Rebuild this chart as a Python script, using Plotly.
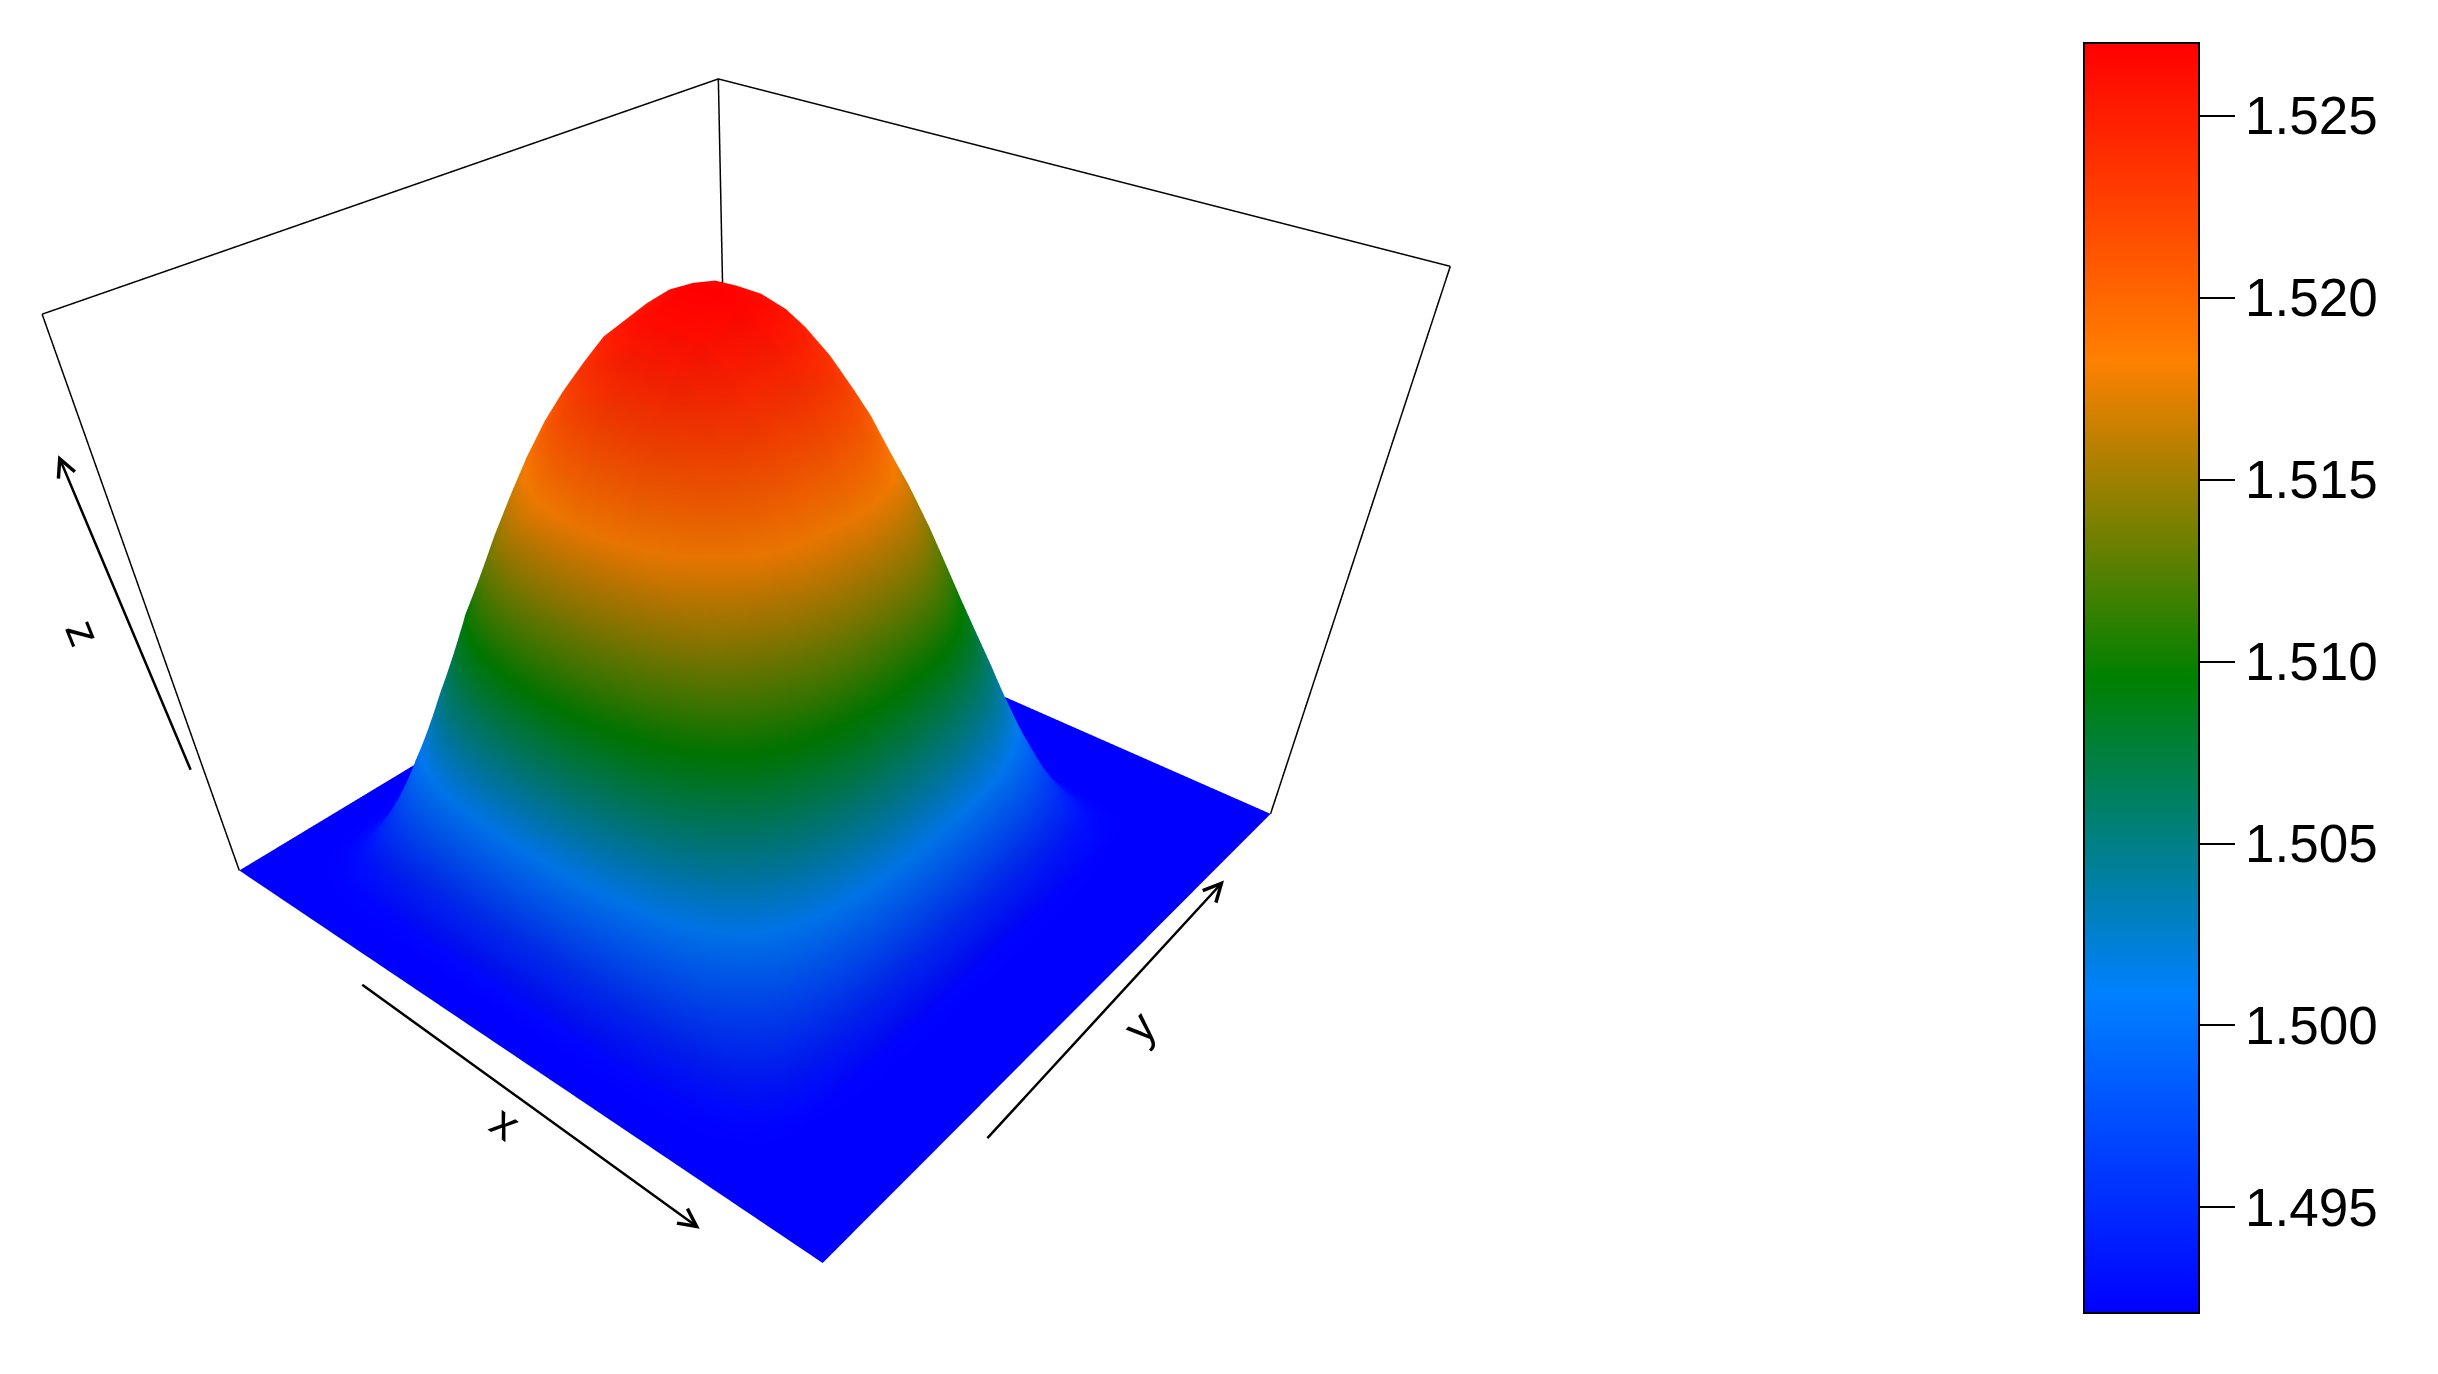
import numpy as np
import plotly.graph_objects as go

# grid positions along x and y (unitless, 0..1)
x_pos = np.linspace(0, 1, 31)
y_pos = np.linspace(0, 1, 31)

# relative height of the bump along x and along y
x_profile = [0, 0, 0.02, 0.10, 0.25, 0.40, 0.54, 0.66, 0.76, 0.84, 0.90, 0.95, 0.98, 1.0, 1.0,
             0.99, 0.96, 0.92, 0.86, 0.79, 0.70, 0.60, 0.48, 0.35, 0.21, 0.08, 0.01, 0, 0, 0, 0]
y_profile = [0, 0, 0.02, 0.09, 0.23, 0.38, 0.52, 0.64, 0.75, 0.83, 0.90, 0.95, 0.98, 0.99, 1.0,
             0.99, 0.97, 0.93, 0.87, 0.80, 0.71, 0.61, 0.49, 0.36, 0.22, 0.09, 0.01, 0, 0, 0, 0]

z_min = 1.4921
z_max = 1.527

cbar_ticks = [1.495, 1.500, 1.505, 1.510, 1.515, 1.520, 1.525]

colors = [[0.0, "#0000FF"], [0.25, "#0080FF"], [0.5, "#008000"],
          [0.75, "#FF8000"], [1.0, "#FF0000"]]

# surface table built from the two profiles (rows = y, columns = x)
z = z_min + (z_max - z_min) * np.outer(y_profile, x_profile)

# camera
eye = np.array([1.0268, -1.2218, 1.2741])
look_z = -0.1159

# the source picture is wider than a true perspective view, so the scene is
# widened along the screen-horizontal direction before plotting
widen = 1.1759
fwd = np.array([0, 0, look_z]) - eye
right = np.array([fwd[1], -fwd[0]])
right = right / np.linalg.norm(right)


def warp(x, y):
    x = np.asarray(x, float) - 0.5
    y = np.asarray(y, float) - 0.5
    s = (widen - 1) * (x * right[0] + y * right[1])
    return x + s * right[0] + 0.5, y + s * right[1] + 0.5


gx, gy = np.meshgrid(x_pos, y_pos)
sx, sy = warp(gx, gy)

fig = go.Figure()

fig.add_trace(go.Surface(
    x=sx, y=sy, z=z,
    cmin=z_min, cmax=z_max,
    colorscale=colors,
    lighting=dict(ambient=0.9, diffuse=0.15, specular=0.0, roughness=1.0, fresnel=0.0),
    hoverinfo="skip",
    colorbar=dict(
        x=0.8474, xanchor="left", y=0.5124, yanchor="middle",
        len=0.939, lenmode="fraction", thickness=115,
        outlinecolor="black", outlinewidth=2,
        tickvals=cbar_ticks, tickformat=".3f",
        ticks="outside", ticklen=35, tickwidth=2, tickcolor="black",
        tickfont=dict(family="Liberation Sans, Arial", size=53, color="black"),
    ),
))

# back edges of the box
box_x = [0, 0, None, 0, 0, None, 1, 1, None, 0, 0, 1]
box_y = [0, 0, None, 1, 1, None, 1, 1, None, 0, 1, 1]
box_z = [z_min, z_max, None, z_min, z_max, None, z_min, z_max, None, z_max, z_max, z_max]
lx, ly = [], []
for a, b in zip(box_x, box_y):
    if a is None:
        lx.append(None)
        ly.append(None)
    else:
        wa, wb = warp(a, b)
        lx.append(float(wa))
        ly.append(float(wb))
fig.add_trace(go.Scatter3d(
    x=lx, y=ly, z=box_z, mode="lines",
    line=dict(color="black", width=3),
    hoverinfo="skip", showlegend=False,
))

dz = z_max - z_min
pad = 0.004 * dz
lab_font = dict(family="Liberation Sans, Arial", size=46, color="black")
arrow = dict(text="", showarrow=True, arrowhead=5, arrowsize=1.4, arrowwidth=2.5,
             arrowcolor="black", standoff=0)


def at(x, y, zz, **kw):
    a, b = warp(x, y)
    return dict(x=float(a), y=float(b), z=zz, **kw)


annotations = [
    at(0.87, -0.05, z_min, ax=-339, ay=-245, **arrow),
    at(1.02, 0.83, z_min, ax=-238, ay=259, **arrow),
    at(0.0, -0.035, z_min + 0.82 * dz, ax=133, ay=316, **arrow),
    at(0.60, -0.08, z_min, text="x", showarrow=False, textangle=35, font=lab_font),
    at(1.075, 0.52, z_min, text="y", showarrow=False, textangle=-47, font=lab_font),
    at(0.0, -0.08, z_min + 0.56 * dz, text="z", showarrow=False, textangle=68, font=lab_font),
]

hidden = dict(visible=False, showspikes=False)
fig.update_layout(
    width=2438, height=1374,
    margin=dict(l=0, r=0, t=0, b=0),
    paper_bgcolor="white",
    showlegend=False,
    scene=dict(
        domain=dict(x=[0, 0.6212], y=[0.0757, 0.9592]),
        xaxis=dict(range=[-0.4, 1.4], **hidden),
        yaxis=dict(range=[-0.4, 1.4], **hidden),
        zaxis=dict(range=[z_min - pad, z_max + pad], **hidden),
        aspectmode="manual",
        aspectratio=dict(x=1.8, y=1.8, z=0.9591 * (dz + 2 * pad) / dz),
        camera=dict(eye=dict(x=eye[0], y=eye[1], z=eye[2]),
                    center=dict(x=0, y=0, z=look_z),
                    up=dict(x=0, y=0, z=1),
                    projection=dict(type="perspective")),
        bgcolor="white",
        annotations=annotations,
    ),
)

fig.write_html("out.html")
